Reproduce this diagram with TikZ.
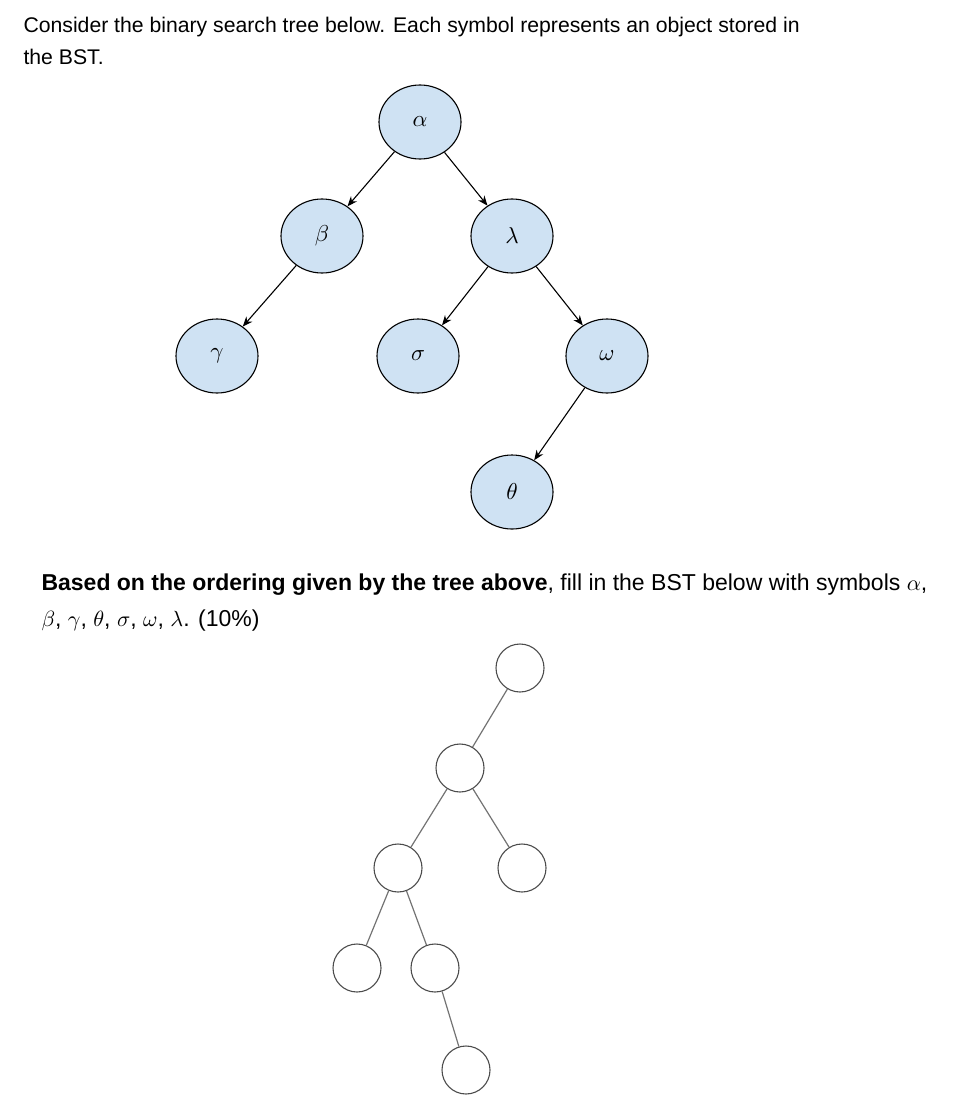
\documentclass[tikz,border=0pt]{standalone}
\usepackage{graphicx}
\usepackage{fontspec}
\setmainfont{Liberation Sans}
\usetikzlibrary{shapes.geometric,arrows.meta}
\newcommand{\gk}[2]{\scalebox{#1}{\normalsize$#2$}}
\begin{document}
\begin{tikzpicture}[x=1pt,y=-1pt,
  bnode/.style={ellipse,draw=black,line width=1.1pt,fill={rgb,255:red,207;green,226;blue,243},minimum width=82pt,minimum height=74pt,inner sep=0pt},
  wnode/.style={circle,draw=black!70,line width=1.1pt,fill=white,minimum size=48pt,inner sep=0pt},
  arr/.style={-{Stealth[length=10pt,width=8pt]},black,line width=1.1pt},
  gline/.style={draw=black!55,line width=1.2pt}]
\useasboundingbox (0,0) rectangle (969,1111);
\node[anchor=base west,font=\fontsize{21.2}{24}\selectfont] (t1) at (20,32) {Consider the binary search tree below. Each symbol represents an object stored in};
\node[anchor=base west,font=\fontsize{21.2}{24}\selectfont] (t2) at (20,64) {the BST.};
\node[bnode] (a) at (420,122) {\gk{2.3}{\alpha}};
\node[bnode] (b) at (322,236) {\gk{2.3}{\beta}};
\node[bnode] (l) at (512,236) {\gk{2.3}{\lambda}};
\node[bnode] (g) at (217,356) {\gk{2.3}{\gamma}};
\node[bnode] (s) at (418,356) {\gk{2.3}{\sigma}};
\node[bnode] (w) at (607,356) {\gk{2.3}{\omega}};
\node[bnode] (th) at (512,492) {\gk{2.3}{\theta}};
\draw[arr] (a) -- (b);
\draw[arr] (a) -- (l);
\draw[arr] (b) -- (g);
\draw[arr] (l) -- (s);
\draw[arr] (l) -- (w);
\draw[arr] (w) -- (th);
\node[anchor=base west,font=\fontsize{23}{26}\selectfont] (p1) at (38,590) {\textbf{Based on the ordering given by the tree above}, fill in the BST below with symbols \gk{2.2}{\alpha},};
\node[anchor=base west,font=\fontsize{23}{26}\selectfont] (p2) at (38,626) {\gk{2.2}{\beta}, \gk{2.2}{\gamma}, \gk{2.2}{\theta}, \gk{2.2}{\sigma}, \gk{2.2}{\omega}, \gk{2.2}{\lambda}. (10\%)};
\node[wnode] (n1) at (520,668) {};
\node[wnode] (n2) at (460,768) {};
\node[wnode] (n3) at (398,868) {};
\node[wnode] (n4) at (522,868) {};
\node[wnode] (n5) at (357,968) {};
\node[wnode] (n6) at (435,968) {};
\node[wnode] (n7) at (466,1070) {};
\draw[gline] (n1) -- (n2);
\draw[gline] (n2) -- (n3);
\draw[gline] (n2) -- (n4);
\draw[gline] (n3) -- (n5);
\draw[gline] (n3) -- (n6);
\draw[gline] (n6) -- (n7);
\end{tikzpicture}
\end{document}
